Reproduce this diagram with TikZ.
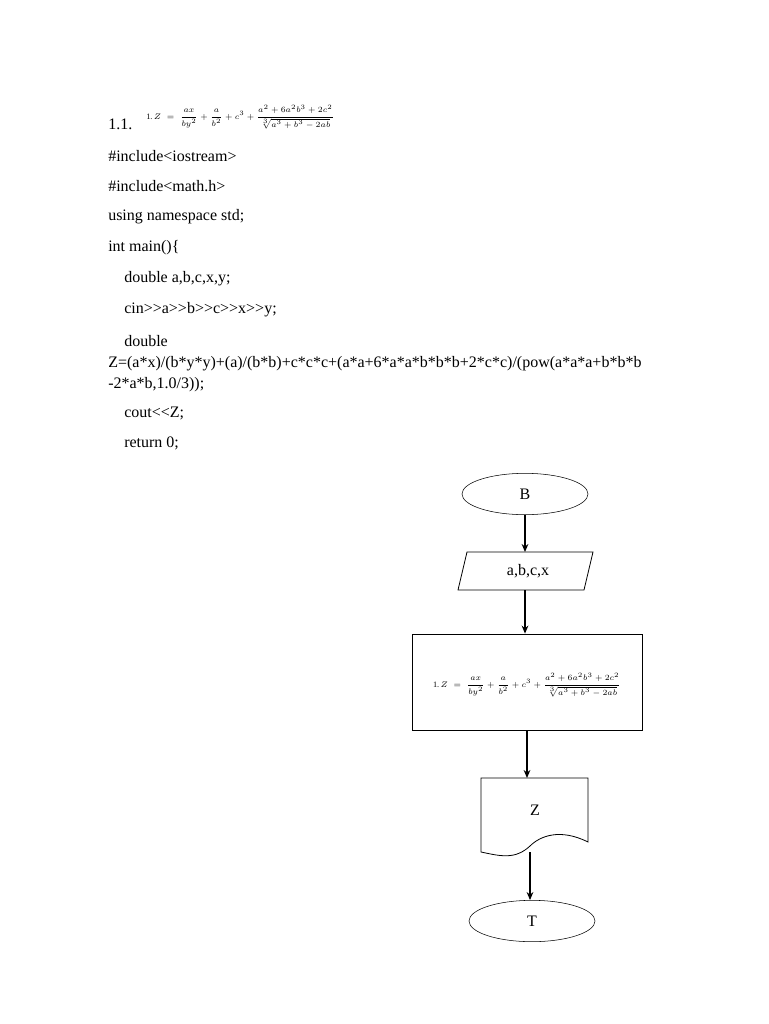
\documentclass[tikz,border=0pt]{standalone}
\usepackage{amsmath}
\usepackage{fontspec}
\setmainfont{Liberation Serif}
\usetikzlibrary{shapes.geometric,arrows.meta}
\newcommand{\zformula}{{\fontsize{6.2}{7}\selectfont 1.\,$Z\;=\;\dfrac{ax}{by^{2}}+\dfrac{a}{b^{2}}+c^{3}+\dfrac{a^{2}+6a^{2}b^{3}+2c^{2}}{\sqrt[3]{a^{3}+b^{3}-2ab}}$}}
\tikzset{txt/.style={anchor=west,inner sep=0,font=\fontsize{12}{14}\selectfont},
term/.style={draw,ellipse,minimum width=94.5pt,minimum height=31pt,font=\fontsize{12}{14}\selectfont},
arr/.style={-{Stealth[length=6pt,width=5pt]},line width=1pt},
shp/.style={draw,line width=0.6pt}}
\begin{document}
\begin{tikzpicture}[x=0.75pt,y=-0.75pt]
\useasboundingbox (0,0) rectangle (768,1024);
\node[txt] (t0) at (108,124) {1.1.};
\node[anchor=west,inner sep=0] (f0) at (146,117) {\zformula};
\node[txt] (t1) at (108,156) {\#include<iostream>};
\node[txt] (t2) at (108,186) {\#include<math.h>};
\node[txt] (t3) at (108,217) {using namespace std;};
\node[txt] (t4) at (108,248) {int main()\{};
\node[txt] (t5) at (124,279) {double a,b,c,x,y;};
\node[txt] (t6) at (124,310) {cin>{}>a>{}>b>{}>c>{}>x>{}>y;};
\node[txt] (t7) at (124,341) {double};
\node[txt] (t8) at (108,364) {Z=(a*x)/(b*y*y)+(a)/(b*b)+c*c*c+(a*a+6*a*a*b*b*b+2*c*c)/(pow(a*a*a+b*b*b};
\node[txt] (t9) at (108,385) {-2*a*b,1.0/3));};
\node[txt] (t10) at (124,413) {cout<{}<Z;};
\node[txt] (t11) at (124,443) {return 0;};
% flowchart
\node[term] (B) at (525,494) {B};
\draw[shp] (467,552) -- (593,552) -- (584,590) -- (458,590) -- cycle;
\node[font=\fontsize{12}{14}\selectfont] (in) at (528,571) {a,b,c,x};
\coordinate (inT) at (525,552); \coordinate (inB) at (525,590);
\node[draw,line width=0.6pt,minimum width=172.5pt,minimum height=72pt] (calc) at (527,682) {};
\node (calcf) at (527,685) {\zformula};
\draw[shp] (481,778) -- (588,778) -- (588,842) .. controls (560,828) and (540,836) .. (530,846) .. controls (515,860) and (500,856) .. (481,852) -- cycle;
\node[font=\fontsize{12}{14}\selectfont] (Z) at (535,810) {Z};
\coordinate (zT) at (527,778); \coordinate (zB) at (530,852);
\node[term] (T) at (532,921) {T};
\draw[arr] (B.south) -- (inT);
\draw[arr] (inB) -- (calc.north -| inB);
\draw[arr] (calc.south) -- (zT);
\draw[arr] (zB) -- (T.north -| zB);
\end{tikzpicture}
\end{document}
